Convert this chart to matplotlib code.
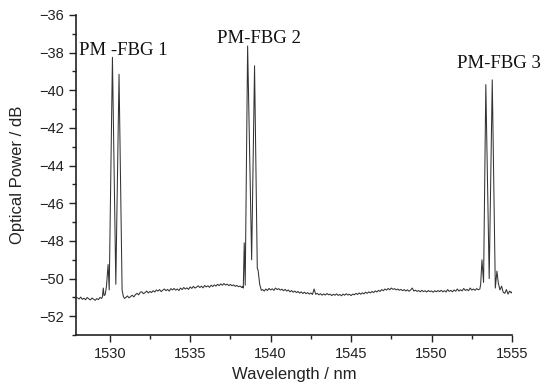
import numpy as np
import matplotlib
matplotlib.use("Agg")
import matplotlib.pyplot as plt
from matplotlib.ticker import MultipleLocator

segA_start = 1528.0
segA = [-51.02, -51.08, -50.98, -51.10, -51.04, -51.12, -51.00, -51.07,
        -51.13, -51.03, -51.09, -51.15, -51.06, -51.11, -51.00, -51.05]

segB_start = 1531.0
segB = [-51.00, -50.92, -51.02, -50.95, -50.88, -50.97, -50.85, -50.78, -50.86, -50.72,
        -50.70, -50.80, -50.74, -50.66, -50.76, -50.68, -50.74, -50.64, -50.71, -50.60,
        -50.66, -50.58, -50.69, -50.61, -50.55, -50.64, -50.57, -50.66, -50.53, -50.60,
        -50.52, -50.61, -50.55, -50.63, -50.50, -50.58, -50.47, -50.55, -50.49, -50.57,
        -50.44, -50.52, -50.41, -50.50, -50.45, -50.38, -50.47, -50.40, -50.49, -50.36,
        -50.44, -50.38, -50.46, -50.35, -50.42, -50.33, -50.40, -50.30, -50.37, -50.28,
        -50.35, -50.26, -50.34, -50.29, -50.37, -50.31, -50.38, -50.33, -50.41, -50.36,
        -50.43, -50.39, -50.47]

segC_start = 1539.5
segC = [-50.58, -50.66, -50.55, -50.63, -50.52, -50.60, -50.54, -50.62, -50.50, -50.58,
        -50.53, -50.61, -50.56, -50.64, -50.57, -50.66, -50.60, -50.70, -50.63, -50.72,
        -50.66, -50.74, -50.68, -50.77, -50.70, -50.79, -50.72, -50.80, -50.74, -50.82,
        -50.76, -50.84, -50.55, -50.83, -50.78, -50.86, -50.80, -50.88, -50.81, -50.87,
        -50.79, -50.86, -50.82, -50.90, -50.83, -50.88, -50.81, -50.89, -50.84, -50.91,
        -50.82, -50.88, -50.80, -50.87, -50.83, -50.90, -50.82, -50.86, -50.78, -50.84,
        -50.76, -50.83, -50.75, -50.81, -50.72, -50.78, -50.70, -50.76, -50.68, -50.74,
        -50.65, -50.71, -50.62, -50.68, -50.58, -50.64, -50.55, -50.61, -50.52, -50.59,
        -50.50, -50.57, -50.53, -50.60, -50.55, -50.62, -50.57, -50.64, -50.58, -50.66,
        -50.59, -50.67, -50.60, -50.50, -50.66, -50.61, -50.68, -50.63, -50.70, -50.62,
        -50.69, -50.64, -50.71, -50.63, -50.69, -50.65, -50.72, -50.64, -50.70, -50.63,
        -50.69, -50.62, -50.70, -50.64, -50.71, -50.58, -50.68, -50.62, -50.70, -50.60,
        -50.67, -50.55, -50.66, -50.59, -50.65, -50.52, -50.63, -50.57, -50.64, -50.50,
        -50.61, -50.55, -50.62, -50.53, -50.59]

# the three grating reflections
fbg1_wl = [1529.55, 1529.6, 1529.65, 1529.72, 1529.8, 1529.9, 1529.97, 1530.17,
           1530.38, 1530.58, 1530.77, 1530.85, 1530.92]
fbg1_p = [-50.95, -50.5, -50.9, -50.85, -50.4, -49.25, -50.6, -38.25,
          -50.3, -39.15, -50.6, -50.95, -51.05]

fbg2_wl = [1538.26, 1538.30, 1538.36, 1538.42, 1538.57, 1538.82, 1539.0,
           1539.17, 1539.22, 1539.32, 1539.42]
fbg2_p = [-50.42, -50.5, -48.1, -50.35, -37.65, -49.0, -38.7,
          -49.45, -49.55, -50.3, -50.62]

fbg3_wl = [1553.0, 1553.05, 1553.13, 1553.23, 1553.37, 1553.58, 1553.77, 1553.96,
           1554.06, 1554.15, 1554.25, 1554.35, 1554.45, 1554.55, 1554.65, 1554.75,
           1554.85, 1554.95, 1555.0]
fbg3_p = [-50.55, -50.3, -49.0, -50.2, -39.7, -50.0, -39.45, -50.5,
          -49.6, -50.25, -50.6, -50.4, -50.72, -50.78, -50.58, -50.82,
          -50.66, -50.76, -50.7]

labels = ["PM -FBG 1", "PM-FBG 2", "PM-FBG 3"]
label_pos = [(1528.1, -38.15), (1536.65, -37.5), (1551.6, -38.8)]


def grid(start, vals):
    return list(start + 0.1 * np.arange(len(vals)))


wl = grid(segA_start, segA) + fbg1_wl + grid(segB_start, segB) + fbg2_wl + grid(segC_start, segC) + fbg3_wl
pw = segA + fbg1_p + segB + fbg2_p + segC + fbg3_p

plt.rcParams['font.family'] = ['Liberation Sans', 'DejaVu Sans']

fig = plt.figure(figsize=(5.5, 3.92), dpi=100)
ax = fig.add_axes([0.138, 0.145, 0.793, 0.817])

ax.plot(wl, pw, color='#333333', lw=0.75)

for txt, (x, y) in zip(labels, label_pos):
    ax.text(x, y, txt, fontsize=13.5, family=['Liberation Serif', 'DejaVu Serif'],
            ha='left', va='baseline', color='#111111')

ax.set_xlim(1527.9, 1555.0)
ax.set_ylim(-53, -36)
ax.xaxis.set_major_locator(MultipleLocator(5))
ax.xaxis.set_minor_locator(MultipleLocator(2.5))
ax.yaxis.set_major_locator(MultipleLocator(2))
ax.yaxis.set_minor_locator(MultipleLocator(1))
ax.tick_params(which='major', direction='out', length=5, width=1, labelsize=10.5, colors='#222222')
ax.tick_params(which='minor', direction='out', length=3, width=1, colors='#222222')

for s in ['top', 'right']:
    ax.spines[s].set_visible(False)
for s in ['left', 'bottom']:
    ax.spines[s].set_linewidth(1.2)
    ax.spines[s].set_color('#222222')

ax.set_xlabel("Wavelength / nm", fontsize=12, color='#222222')
ax.set_ylabel("Optical Power / dB", fontsize=12, color='#222222', labelpad=10)

fig.savefig("out.png", dpi=100)
